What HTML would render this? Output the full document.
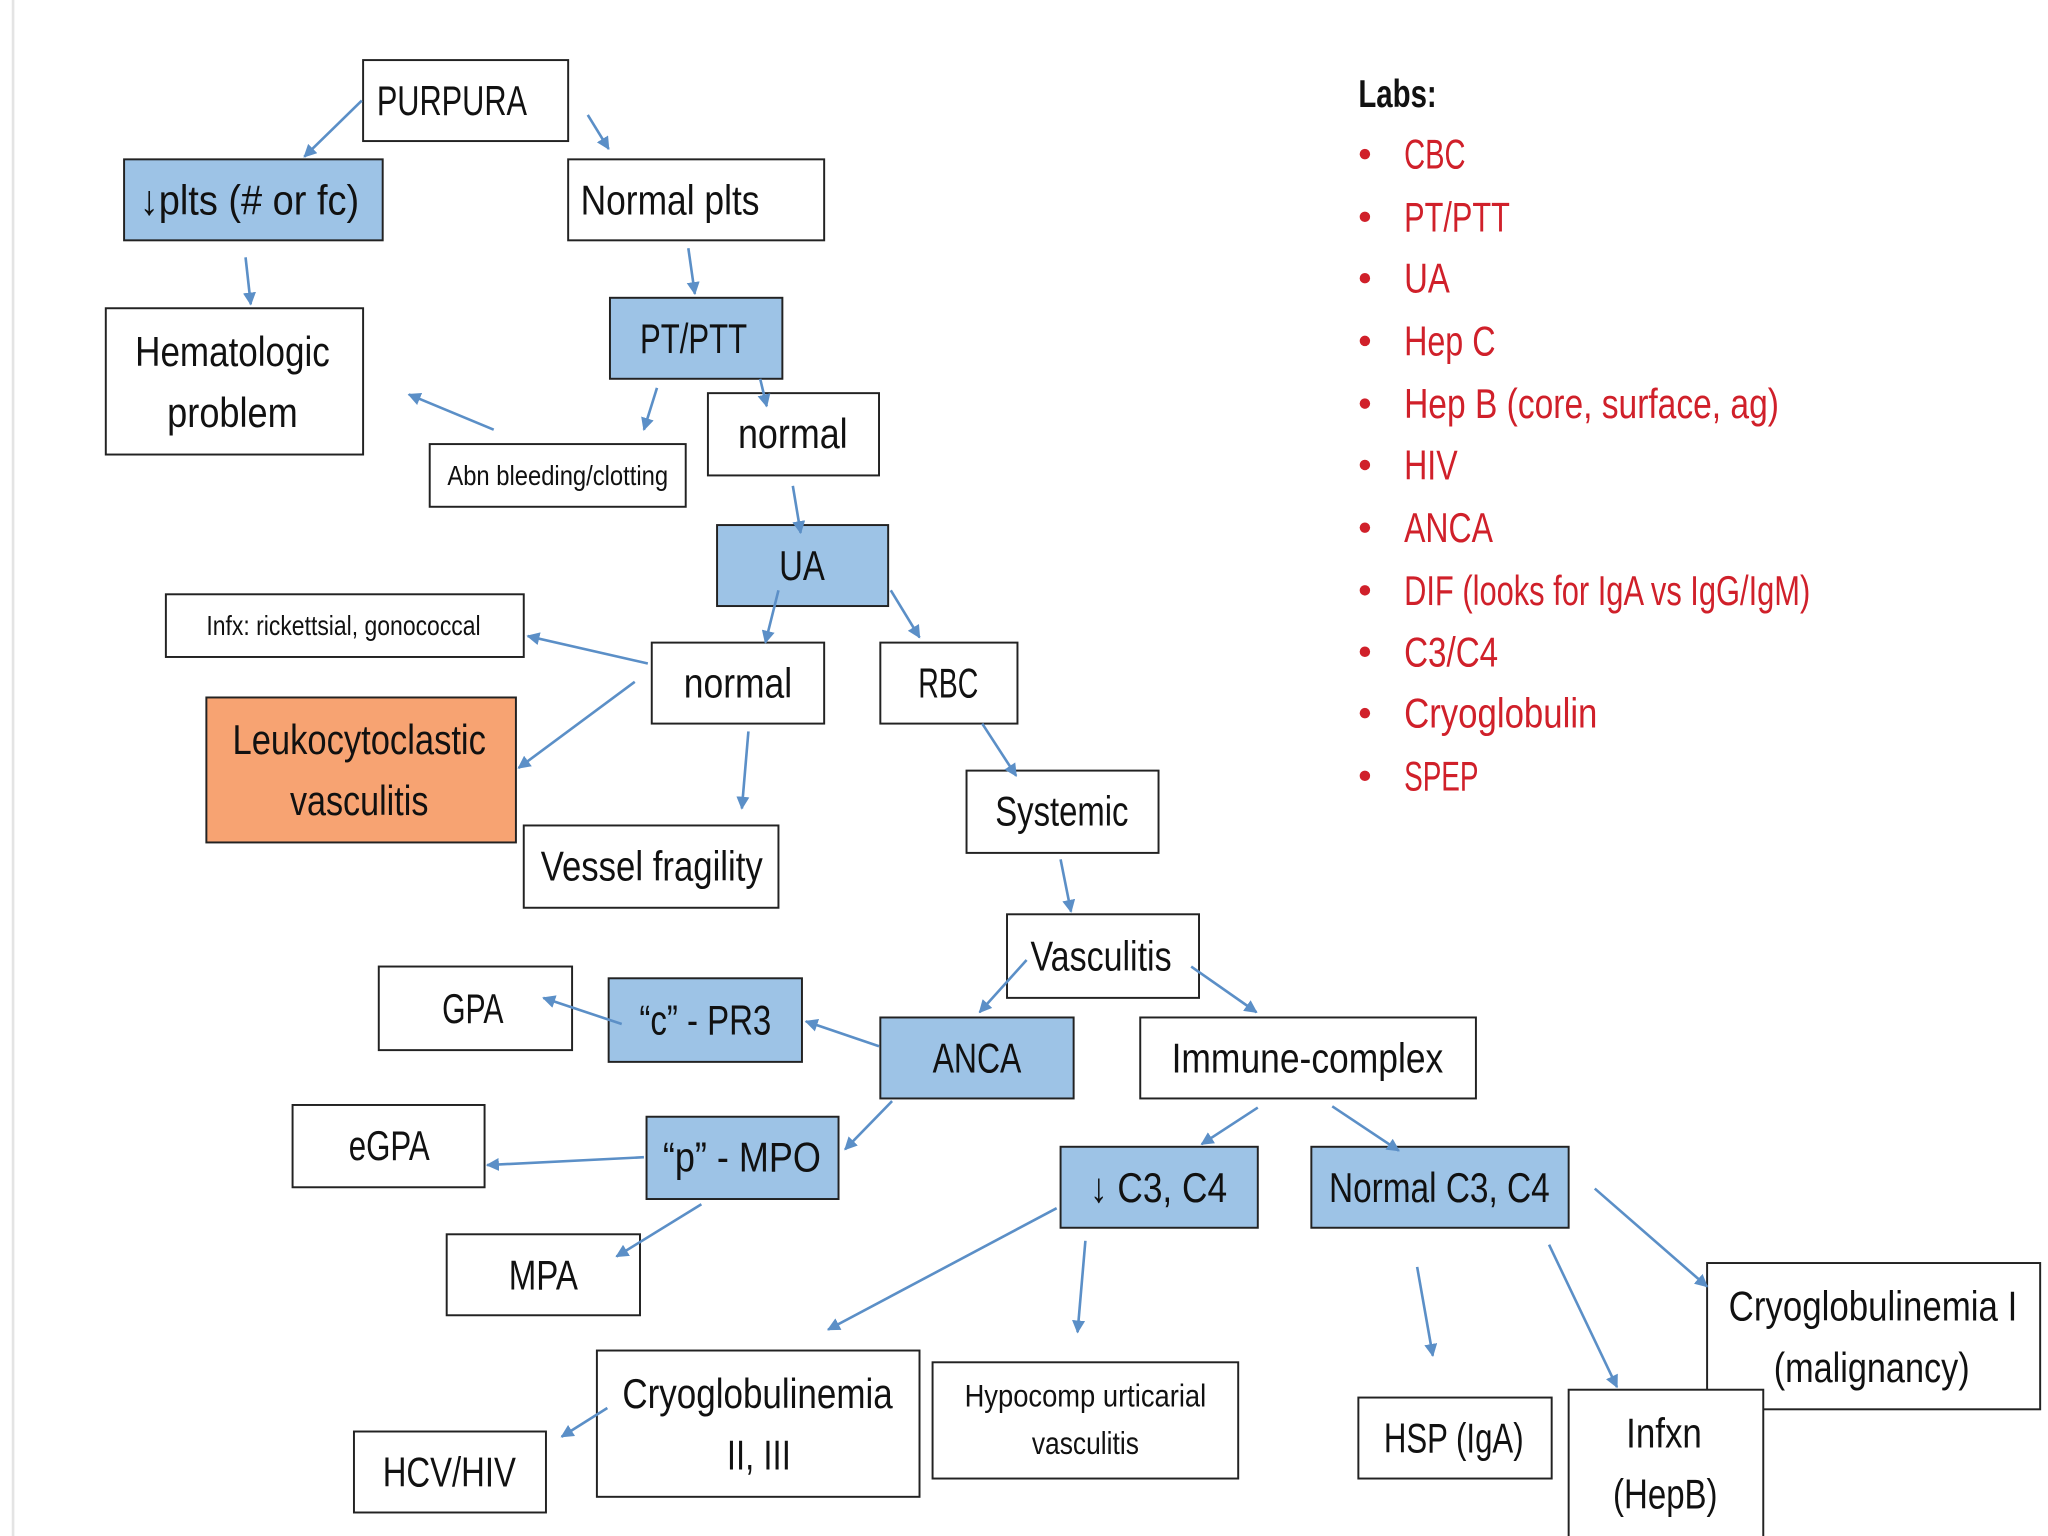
<!DOCTYPE html>
<html><head><meta charset="utf-8"><style>
html,body{margin:0;padding:0;background:#fff;}
svg{display:block;}
text{font-family:"Liberation Sans",sans-serif;fill:#111;}
</style></head><body>
<svg width="2048" height="1536" viewBox="0 0 1568 1176" xmlns="http://www.w3.org/2000/svg">
<defs>
<marker id="a" viewBox="0 0 10 10" refX="9" refY="5" markerWidth="5" markerHeight="5" orient="auto"><path d="M0,0L10,5L0,10z" fill="#5b8fc7"/></marker>
</defs>
<line x1="10" y1="0" x2="10" y2="1176" stroke="#e4e4e4" stroke-width="2"/>
<g stroke="#222" stroke-width="1.5">
<rect x="278" y="46" width="157" height="62" fill="#fff"/>
<rect x="95" y="122" width="198" height="62" fill="#9dc3e6"/>
<rect x="435" y="122" width="196" height="62" fill="#fff"/>
<rect x="81" y="236" width="197" height="112" fill="#fff"/>
<rect x="467" y="228" width="132" height="62" fill="#9dc3e6"/>
<rect x="542" y="301" width="131" height="63" fill="#fff"/>
<rect x="329" y="340" width="196" height="48" fill="#fff"/>
<rect x="549" y="402" width="131" height="62" fill="#9dc3e6"/>
<rect x="127" y="455" width="274" height="48" fill="#fff"/>
<rect x="499" y="492" width="132" height="62" fill="#fff"/>
<rect x="674" y="492" width="105" height="62" fill="#fff"/>
<rect x="158" y="534" width="237" height="111" fill="#f7a372"/>
<rect x="401" y="632" width="195" height="63" fill="#fff"/>
<rect x="740" y="590" width="147" height="63" fill="#fff"/>
<rect x="771" y="700" width="147" height="64" fill="#fff"/>
<rect x="290" y="740" width="148" height="64" fill="#fff"/>
<rect x="466" y="749" width="148" height="64" fill="#9dc3e6"/>
<rect x="674" y="779" width="148" height="62" fill="#9dc3e6"/>
<rect x="873" y="779" width="257" height="62" fill="#fff"/>
<rect x="224" y="846" width="147" height="63" fill="#fff"/>
<rect x="495" y="855" width="147" height="63" fill="#9dc3e6"/>
<rect x="812" y="878" width="151" height="62" fill="#9dc3e6"/>
<rect x="1004" y="878" width="197" height="62" fill="#9dc3e6"/>
<rect x="342" y="945" width="148" height="62" fill="#fff"/>
<rect x="1307" y="967" width="255" height="112" fill="#fff"/>
<rect x="457" y="1034" width="247" height="112" fill="#fff"/>
<rect x="714" y="1043" width="234" height="89" fill="#fff"/>
<rect x="1040" y="1070" width="148" height="62" fill="#fff"/>
<rect x="1201" y="1064" width="149" height="115" fill="#fff"/>
<rect x="271" y="1096" width="147" height="62" fill="#fff"/>
</g>
<g font-size="32" text-anchor="middle" dominant-baseline="central" lengthAdjust="spacingAndGlyphs">
<text x="346" y="77" textLength="115" lengthAdjust="spacingAndGlyphs">PURPURA</text>
<text x="191" y="153" textLength="168" lengthAdjust="spacingAndGlyphs">↓plts (# or fc)</text>
<text x="513" y="153" textLength="137" lengthAdjust="spacingAndGlyphs">Normal plts</text>
<text x="178" y="269" textLength="149" lengthAdjust="spacingAndGlyphs">Hematologic</text>
<text x="178" y="316" textLength="100" lengthAdjust="spacingAndGlyphs">problem</text>
<text x="531" y="259" textLength="82" lengthAdjust="spacingAndGlyphs">PT/PTT</text>
<text x="607" y="332" textLength="84" lengthAdjust="spacingAndGlyphs">normal</text>
<text x="427" y="364" font-size="21" textLength="169" lengthAdjust="spacingAndGlyphs">Abn bleeding/clotting</text>
<text x="614" y="433" textLength="35" lengthAdjust="spacingAndGlyphs">UA</text>
<text x="263" y="479" font-size="21" textLength="210" lengthAdjust="spacingAndGlyphs">Infx: rickettsial, gonococcal</text>
<text x="565" y="523" textLength="83" lengthAdjust="spacingAndGlyphs">normal</text>
<text x="726" y="523" textLength="46" lengthAdjust="spacingAndGlyphs">RBC</text>
<text x="275" y="566" textLength="194" lengthAdjust="spacingAndGlyphs">Leukocytoclastic</text>
<text x="275" y="613" textLength="106" lengthAdjust="spacingAndGlyphs">vasculitis</text>
<text x="499" y="663" textLength="170" lengthAdjust="spacingAndGlyphs">Vessel fragility</text>
<text x="813" y="621" textLength="102" lengthAdjust="spacingAndGlyphs">Systemic</text>
<text x="843" y="732" textLength="108" lengthAdjust="spacingAndGlyphs">Vasculitis</text>
<text x="362" y="772" textLength="47" lengthAdjust="spacingAndGlyphs">GPA</text>
<text x="540" y="781" textLength="101" lengthAdjust="spacingAndGlyphs">“c” - PR3</text>
<text x="748" y="810" textLength="68" lengthAdjust="spacingAndGlyphs">ANCA</text>
<text x="1001" y="810" textLength="208" lengthAdjust="spacingAndGlyphs">Immune-complex</text>
<text x="298" y="877" textLength="62" lengthAdjust="spacingAndGlyphs">eGPA</text>
<text x="568" y="886" textLength="121" lengthAdjust="spacingAndGlyphs">“p” - MPO</text>
<text x="887" y="909" textLength="105" lengthAdjust="spacingAndGlyphs">↓ C3, C4</text>
<text x="1102" y="909" textLength="169" lengthAdjust="spacingAndGlyphs">Normal C3, C4</text>
<text x="416" y="976" textLength="53" lengthAdjust="spacingAndGlyphs">MPA</text>
<text x="1434" y="1000" textLength="221" lengthAdjust="spacingAndGlyphs">Cryoglobulinemia I</text>
<text x="1433" y="1047" textLength="150" lengthAdjust="spacingAndGlyphs">(malignancy)</text>
<text x="580" y="1067" textLength="207" lengthAdjust="spacingAndGlyphs">Cryoglobulinemia</text>
<text x="581" y="1114" textLength="49" lengthAdjust="spacingAndGlyphs">II, III</text>
<text x="831" y="1069" font-size="24" textLength="185" lengthAdjust="spacingAndGlyphs">Hypocomp urticarial</text>
<text x="831" y="1105" font-size="24" textLength="82" lengthAdjust="spacingAndGlyphs">vasculitis</text>
<text x="1113" y="1101" textLength="107" lengthAdjust="spacingAndGlyphs">HSP (IgA)</text>
<text x="1274" y="1097" textLength="58" lengthAdjust="spacingAndGlyphs">Infxn</text>
<text x="1275" y="1144" textLength="80" lengthAdjust="spacingAndGlyphs">(HepB)</text>
<text x="344" y="1127" textLength="102" lengthAdjust="spacingAndGlyphs">HCV/HIV</text>
</g>
<text x="1040" y="82" font-size="30" font-weight="bold" textLength="60" lengthAdjust="spacingAndGlyphs">Labs:</text>
<g fill="#d0202a">
<circle cx="1045" cy="118" r="4"/><circle cx="1045" cy="166" r="4"/><circle cx="1045" cy="213" r="4"/><circle cx="1045" cy="261" r="4"/><circle cx="1045" cy="309" r="4"/><circle cx="1045" cy="356" r="4"/><circle cx="1045" cy="404" r="4"/><circle cx="1045" cy="452" r="4"/><circle cx="1045" cy="499" r="4"/><circle cx="1045" cy="546" r="4"/><circle cx="1045" cy="594" r="4"/>
</g>
<g font-size="32" dominant-baseline="central">
<text x="1075" y="118" style="fill:#d0202a" textLength="47" lengthAdjust="spacingAndGlyphs">CBC</text>
<text x="1075" y="166" style="fill:#d0202a" textLength="81" lengthAdjust="spacingAndGlyphs">PT/PTT</text>
<text x="1075" y="213" style="fill:#d0202a" textLength="35" lengthAdjust="spacingAndGlyphs">UA</text>
<text x="1075" y="261" style="fill:#d0202a" textLength="70" lengthAdjust="spacingAndGlyphs">Hep C</text>
<text x="1075" y="309" style="fill:#d0202a" textLength="287" lengthAdjust="spacingAndGlyphs">Hep B (core, surface, ag)</text>
<text x="1075" y="356" style="fill:#d0202a" textLength="41" lengthAdjust="spacingAndGlyphs">HIV</text>
<text x="1075" y="404" style="fill:#d0202a" textLength="68" lengthAdjust="spacingAndGlyphs">ANCA</text>
<text x="1075" y="452" style="fill:#d0202a" textLength="311" lengthAdjust="spacingAndGlyphs">DIF (looks for IgA vs IgG/IgM)</text>
<text x="1075" y="499" style="fill:#d0202a" textLength="72" lengthAdjust="spacingAndGlyphs">C3/C4</text>
<text x="1075" y="546" style="fill:#d0202a" textLength="148" lengthAdjust="spacingAndGlyphs">Cryoglobulin</text>
<text x="1075" y="594" style="fill:#d0202a" textLength="57" lengthAdjust="spacingAndGlyphs">SPEP</text>
</g>
<g stroke="#5b8fc7" stroke-width="2" marker-end="url(#a)" fill="none">
<line x1="277" y1="77" x2="233" y2="120"/>
<line x1="450" y1="88" x2="466" y2="114"/>
<line x1="188" y1="197" x2="192" y2="233"/>
<line x1="527" y1="190" x2="532" y2="225"/>
<line x1="378" y1="329" x2="313" y2="302"/>
<line x1="503" y1="297" x2="493" y2="329"/>
<line x1="582" y1="290" x2="587" y2="311"/>
<line x1="607" y1="372" x2="613" y2="408"/>
<line x1="596" y1="452" x2="586" y2="492"/>
<line x1="682" y1="452" x2="704" y2="488"/>
<line x1="496" y1="508" x2="404" y2="487"/>
<line x1="486" y1="522" x2="397" y2="588"/>
<line x1="573" y1="560" x2="568" y2="619"/>
<line x1="752" y1="554" x2="778" y2="594"/>
<line x1="812" y1="658" x2="820" y2="698"/>
<line x1="786" y1="735" x2="750" y2="775"/>
<line x1="912" y1="740" x2="962" y2="775"/>
<line x1="673" y1="801" x2="617" y2="782"/>
<line x1="476" y1="784" x2="416" y2="764"/>
<line x1="683" y1="843" x2="647" y2="880"/>
<line x1="493" y1="886" x2="373" y2="892"/>
<line x1="537" y1="922" x2="472" y2="962"/>
<line x1="963" y1="848" x2="920" y2="876"/>
<line x1="1020" y1="847" x2="1071" y2="881"/>
<line x1="809" y1="925" x2="634" y2="1018"/>
<line x1="831" y1="950" x2="825" y2="1020"/>
<line x1="1085" y1="970" x2="1097" y2="1038"/>
<line x1="1186" y1="953" x2="1238" y2="1062"/>
<line x1="1221" y1="910" x2="1307" y2="985"/>
<line x1="465" y1="1078" x2="430" y2="1100"/>
</g>
</svg>
</body></html>
